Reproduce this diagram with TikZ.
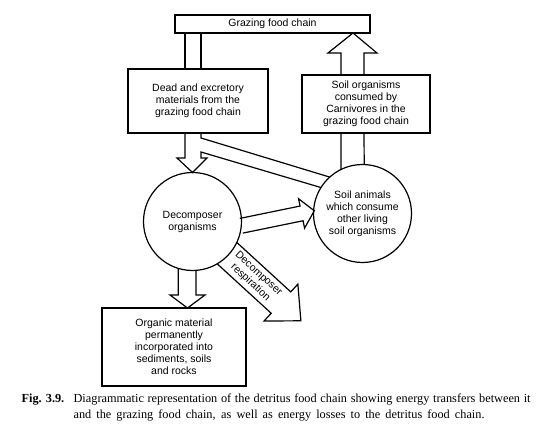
\documentclass[tikz,border=0pt]{standalone}
\usepackage{fontspec}
\setmainfont{Liberation Serif}
\newfontfamily\boxfont{Liberation Sans}
\begin{document}
\begin{tikzpicture}[x=1pt,y=-1pt,line width=1.2pt,line join=miter,
  lbl/.style={font=\boxfont\fontsize{10.5}{12}\selectfont,align=center},
  box/.style={draw,rectangle,inner sep=0pt,outer sep=0pt,lbl},
  circ/.style={draw,circle,inner sep=0pt,outer sep=0pt,minimum size=98pt,lbl},
  capt/.style={font=\fontsize{12.3}{15}\selectfont,anchor=base west,inner sep=0pt}]
\useasboundingbox (0,0) rectangle (548,430);
\fill[white] (0,0) rectangle (548,430);

% nodes
\node[box,minimum width=195pt,minimum height=18pt] (graz) at (272.5,24) {Grazing food chain};
\node[box,minimum width=140pt,minimum height=64pt] (dead) at (198,101) {Dead and excretory\\materials from the\\grazing food chain};
\node[box,minimum width=128pt,minimum height=58pt] (soilorg) at (366,104) {Soil organisms\\consumed by\\Carnivores in the\\grazing food chain};
\node[circ] (decomp) at (192.5,221.5) {Decomposer\\organisms};
\node[circ] (soilan) at (362.5,213.5) {Soil animals\\which consume\\other living\\soil organisms};
\node[box,minimum width=144pt,minimum height=78pt] (organic) at (174,347) {Organic material\\permanently\\incorporated into\\sediments, soils\\and rocks};

% grazing chain -> dead materials (band)
\draw (graz.south -| 185,0) -- (dead.north -| 185,0);
\draw (graz.south -| 201,0) -- (dead.north -| 201,0);

% soil organisms -> grazing chain (hollow arrow)
\draw (soilorg.north -| 341,0) -- (341,53) -- (328,53) -- (graz.south -| 353,0) -- (377,53) -- (364,53) -- (soilorg.north -| 364,0);

% soil animals -> soil organisms (band)
\draw (soilorg.south -| 341,0) -- (soilan.116);
\draw (soilorg.south -| 364,0) -- (soilan.88);

% dead materials -> decomposers, and band to soil animals
\draw (dead.south -| 185,0) -- (185,158) -- (177,158) -- (decomp.north) -- (207,158) -- (201,158) -- (201,152) -- (soilan.148);
\draw (dead.south -| 201,0) -- (201,138) -- (soilan.132);

% decomposers -> soil animals (hollow arrow)
\begin{scope}[shift={(decomp.-5)},rotate=11.6]
  \draw (0,7.5) -- (61.5,7.5) -- (61.5,15) -- (74.5,0) -- (61.5,-15) -- (61.5,-7.5) -- (0,-7.5);
\end{scope}

% decomposer respiration (hollow arrow)
\begin{scope}[shift={(decomp.center)},rotate=-42.5]
  \draw (46.8,14.5) -- (120,14.5) -- (120,25) -- (147,0) -- (120,-25) -- (120,-14.5) -- (46.8,-14.5);
  \node[lbl,rotate=-42.5,inner sep=0pt] (resp) at (84,0) {Decomposer\\respiration};
\end{scope}

% decomposers -> organic material (hollow arrow)
\draw (decomp.-107) -- (178.2,295) -- (170,295) -- (organic.north -| 187.5,0) -- (205,295) -- (196,295) -- (decomp.-86);

% caption
\node[capt,font=\bfseries\fontsize{12.3}{15}\selectfont] (fig) at (21,402) {Fig. 3.9.};
\node[capt] (cap1) at (73,402) {\makebox[457pt][s]{Diagrammatic representation of the detritus food chain showing energy transfers between it}};
\node[capt] (cap2) at (73,418) {\makebox[411pt][s]{and the grazing food chain, as well as energy losses to the detritus food chain.}};
\end{tikzpicture}
\end{document}
